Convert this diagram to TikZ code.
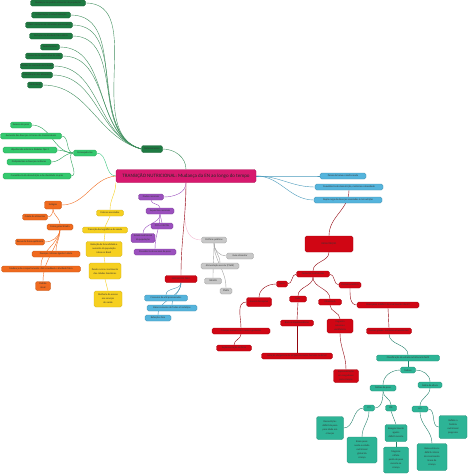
\documentclass[tikz,border=0pt]{standalone}
\usepackage{fontspec}
\setmainfont{Carlito}
\usetikzlibrary{positioning,backgrounds}

\definecolor{dgcol}{RGB}{30,122,66}
\definecolor{lgcol}{RGB}{52,201,110}
\definecolor{orcol}{RGB}{240,106,30}
\definecolor{yecol}{RGB}{246,208,32}
\definecolor{pucol}{RGB}{155,80,190}
\definecolor{grcol}{RGB}{200,200,200}
\definecolor{recol}{RGB}{208,6,20}
\definecolor{blcol}{RGB}{85,180,220}
\definecolor{tecol}{RGB}{45,180,150}
\definecolor{mgcol}{RGB}{215,25,110}

\begin{document}
\begin{tikzpicture}[%
  x=1pt,
  y=1pt,
  box/.style={
    rounded corners=1.6pt,
    inner sep=0.5pt,
    minimum height=6pt,
    align=center,
    line width=0.3pt,
    text=black!80,
    font=\fontsize{2.5}{4}\selectfont},
  wd/.style={minimum width=#1pt},
  ht/.style={minimum height=#1pt},
  dgn/.style={box, fill=dgcol, draw=dgcol!80!black},
  lgn/.style={box, fill=lgcol, draw=lgcol!80!black},
  orn/.style={box, fill=orcol, draw=orcol!80!black},
  yen/.style={box, fill=yecol, draw=yecol!85!black},
  pun/.style={box, fill=pucol, draw=pucol!80!black},
  grn/.style={box, fill=grcol, draw=grcol!80!black},
  ren/.style={box, fill=recol, draw=recol!80!black},
  bln/.style={box, fill=blcol, draw=blcol!80!black},
  ten/.style={box, fill=tecol, draw=tecol!80!black},
  lnk/.style={line width=0.55pt}
  ]
  \useasboundingbox (0,0) rectangle (474,-474);
  %% Central node
  \node[box, fill=mgcol, draw=mgcol!80!black, wd=140, ht=13,
    font=\fontsize{5}{6}\selectfont, text=black!85] (central) at (186,-176)
    {TRANSIÇÃO NUTRICIONAL: Mudança da EN ao longo do tempo};
  %% Dark green branch
  \node[dgn, wd=21, ht=7] (dgh) at (152,-149) {Determinantes};
  \node[dgn, wd=55] (dg1) at (58,-3) {Mudanças no padrão alimentar da população};
  \node[dgn, wd=39] (dg2) at (51,-15) {Urbanização e industrialização};
  \node[dgn, wd=47] (dg3) at (49,-25) {Maior consumo de alimentos processados};
  \node[dgn, wd=43] (dg4) at (51,-36) {Redução da atividade física diária};
  \node[dgn, wd=19] (dg5) at (50,-47) {Sedentarismo};
  \node[dgn, wd=37] (dg6) at (44,-56) {Aumento da expectativa de vida};
  \node[dgn, wd=32] (dg7) at (37,-66) {Mulher no mercado de trabalho};
  \node[dgn, wd=31] (dg8) at (37,-75) {Globalização dos alimentos};
  \node[dgn, wd=15] (dg9) at (35,-85) {Publicidade};
  %% Light green branch
  \node[lgn, wd=23] (lgh) at (85,-153) {Consequências};
  \node[lgn, wd=21] (lg1) at (21,-125) {Excesso de peso};
  \node[lgn, wd=61] (lg2) at (31,-136) {Aumento das doenças crônicas não transmissíveis};
  \node[lgn, wd=54] (lg3) at (30,-150) {Hipertensão arterial e diabetes tipo 2};
  \node[lgn, wd=44] (lg4) at (29,-162) {Dislipidemias e doenças cardíacas};
  \node[lgn, wd=68] (lg5) at (37,-176) {Coexistência da desnutrição e da obesidade no país};
  %% Orange branch
  \node[orn, wd=17, ht=8] (orh) at (53,-205) {Estágios};
  \node[orn, wd=25] (or1) at (35,-217) {Coleta de alimentos};
  \node[orn, wd=26] (or2) at (60,-227) {Fome generalizada};
  \node[orn, wd=29] (or3) at (30,-242) {Recuo da fome epidêmica};
  \node[orn, wd=48] (or4) at (56,-254) {Doenças crônicas ligadas à dieta};
  \node[orn, wd=79] (or5) at (41,-269) {Mudança de comportamento: dieta saudável e atividade física};
  \node[orn, wd=15, ht=9] (or6) at (43,-286) {Padrão\\atual};
  %% Yellow branch
  \node[yen, wd=27] (ye1) at (110,-213) {Fatores associados};
  \node[yen, wd=45] (ye2) at (105,-230) {Transição demográfica e de saúde};
  \node[yen, wd=36, ht=15] (ye3) at (104,-249) {Redução da fecundidade e\\aumento da população\\idosa no Brasil};
  \node[yen, wd=32, ht=16] (ye4) at (105,-271) {Êxodo rural e crescimento\\das cidades brasileiras};
  \node[yen, wd=28, ht=16] (ye5) at (108,-299) {Melhoria do acesso\\aos serviços\\de saúde};
  %% Purple branch
  \node[pun, wd=25] (pu1) at (151,-197) {Dados nacionais};
  \node[pun, wd=28] (pu2) at (160,-211) {Inquéritos nacionais};
  \node[pun, wd=22] (pu3) at (162,-226) {POF e VIGITEL};
  \node[pun, wd=24, ht=9] (pu4) at (143,-238) {Estado nutricional\\da população};
  \node[pun, wd=42] (pu5) at (155,-252) {Prevalência de excesso de peso};
  %% Grey branch
  \node[grn, wd=25] (gr1) at (214,-240) {Políticas públicas};
  \node[grn, wd=27] (gr2) at (240,-256) {Guia alimentar};
  \node[grn, wd=38] (gr3) at (220,-266) {Alimentação escolar (PNAE)};
  \node[grn, wd=17] (gr4) at (213,-281) {SISVAN};
  \node[grn, wd=12] (gr5) at (226,-291) {PNAN};
  %% Red and blue branch below
  \node[ren, wd=32, ht=7] (r0) at (181,-279) {EXCESSO DE PESO};
  \node[bln, wd=43] (bl1) at (166,-298) {Consumo de ultraprocessados};
  \node[bln, wd=50] (bl2) at (172,-308) {Baixo consumo de frutas e hortaliças};
  \node[bln, wd=26] (bl3) at (158,-318) {Refeições fora};
  %% Right blue branch
  \node[bln, wd=46] (rb1) at (343,-176) {Países de baixa e média renda};
  \node[bln, wd=68] (rb2) at (349,-187) {Coexistência de desnutrição, carências e obesidade};
  \node[bln, wd=68] (rb3) at (348,-200) {Dupla carga de doenças associadas à má nutrição};
  %% Red tree
  \node[ren, wd=48, ht=16] (re1) at (329,-244) {DESNUTRIÇÃO};
  \node[ren, wd=33] (re2) at (313,-274) {Carências nutricionais};
  \node[ren, wd=11] (re3) at (282,-284) {Ferro};
  \node[ren, wd=17] (re4) at (298,-299) {Iodo};
  \node[ren, wd=23] (re5) at (330,-302) {Vitamina A};
  \node[ren, wd=22] (re6) at (350,-285) {Proteico-calórica};
  \node[ren, wd=25, ht=9] (re7) at (259,-302) {Anemia ferropriva};
  \node[ren, wd=58] (re8) at (241,-331) {Crianças menores de 5 anos e gestantes};
  \node[ren, wd=35] (re9) at (234,-348) {Suplementação de ferro};
  \node[ren, wd=33] (re10) at (297,-323) {Bócio e hipotireoidismo};
  \node[ren, wd=71] (re11) at (297,-356) {Iodação obrigatória do sal para consumo humano no Brasil};
  \node[ren, wd=26, ht=14] (re12) at (340,-326) {Cegueira\\noturna e\\xeroftalmia};
  \node[ren, wd=25, ht=13] (re13) at (346,-376) {Suplementação\\em megadoses\\para crianças};
  \node[ren, wd=62] (re14) at (388,-305) {Baixo peso e déficit de crescimento infantil};
  \node[ren, wd=45] (re15) at (389,-331) {Formas graves: marasmo e kwashiorkor};
  %% Teal tree
  \node[ten, wd=63] (te1) at (408,-358) {Classificação do estado nutricional infantil};
  \node[ten, wd=15] (te2) at (408,-370) {Índices};
  \node[ten, wd=26] (te3) at (383,-388) {Índices de peso};
  \node[ten, wd=24] (te4) at (430,-385) {Índice de altura};
  \node[ten, wd=11] (te5) at (369,-408) {P/I};
  \node[ten, wd=11] (te6) at (391,-408) {P/E};
  \node[ten, wd=16] (te7) at (420,-409) {A/I};
  \node[ten, wd=27, ht=23] (te8) at (330,-428) {Desnutrição:\\déficit de peso\\para idade em\\crianças};
  \node[ten, wd=30, ht=26] (te9) at (362,-450) {Baixo peso:\\avalia o estado\\nutricional\\global da\\criança};
  \node[ten, wd=22, ht=17] (te10) at (396,-433) {Emagrecimento\\agudo:\\déficit recente};
  \node[ten, wd=25, ht=26] (te11) at (396,-460) {Magreza:\\reflete\\perda de peso\\recente na\\criança};
  \node[ten, wd=30, ht=27] (te12) at (432,-457) {Baixa estatura:\\déficit crônico\\de crescimento\\linear da\\criança};
  \node[ten, wd=28, ht=23] (te13) at (453,-427) {Reflete a\\história\\nutricional\\pregressa};
  %% Edges
  \begin{scope}[on background layer, lnk]
    \foreach \n in {dg1,dg2,dg3,dg4,dg5,dg6,dg7,dg8,dg9}
      \draw[dgcol!85] (\n.east) to [out=0,in=165] (dgh.west);
    \draw[dgcol!85] (dgh.east) to [out=0,in=90] (central.north);
    \foreach \n in {lg1,lg2,lg3,lg4,lg5}
      \draw[lgcol!80!black] (\n.east) to [out=0,in=180] (lgh.west);
    \draw[lgcol!70!tecol] (lgh.east) to [out=0,in=180] (central.west);
    \draw[orcol] (orh.east) to [out=0,in=185] (central.west);
    \draw[orcol] (orh.south) to [out=-90,in=0] (or1.east);
    \draw[orcol] (orh.south) to [out=-90,in=90] (or2.north);
    \draw[orcol] (or2.south) to [out=-100,in=0] (or3.east);
    \draw[orcol] (or2.south) to [out=-90,in=90] (or4.north);
    \draw[orcol] (or2.south) to [out=-100,in=90] (or5.north);
    \draw[orcol] (or2.south) to [out=-100,in=90] (or6.north);
    \draw[yecol] (central.south west) to [out=-90,in=90] (ye1.north);
    \draw[yecol] (ye1.south) -- (ye2.north);
    \draw[yecol] (ye2.south) -- (ye3.north);
    \draw[yecol] (ye3.south) -- (ye4.north);
    \draw[yecol] (ye4.south) -- (ye5.north);
    \draw[pucol] (central.south) to [out=-90,in=0] (pu1.east);
    \draw[pucol] (pu1.south) to [out=-90,in=90] (pu2.north);
    \draw[pucol] (pu2.south) to [out=-90,in=90] (pu3.north);
    \draw[pucol] (pu2.south) to [out=-90,in=90] (pu4.north);
    \draw[pucol] (pu2.south) to [out=-90,in=90] (pu5.north);
    \draw[mgcol!30] (central.south) to [out=-90,in=180] (gr1.west);
    \draw[grcol!80!black] (gr1.south) to [out=-90,in=180] (gr2.west);
    \draw[grcol!80!black] (gr1.south) to [out=-90,in=90] (gr3.north);
    \draw[grcol!80!black] (gr1.south) to [out=-90,in=90] (gr4.north);
    \draw[grcol!80!black] (gr1.south) to [out=-90,in=90] (gr5.north);
    \draw[recol!70!black] (central.south) to [out=-90,in=90] (r0.north);
    \draw[blcol!80!black] (r0.south) to [out=-90,in=90] (bl1.north);
    \draw[blcol!80!black] (r0.south) to [out=-90,in=90] (bl2.north);
    \draw[blcol!80!black] (r0.south) to [out=-90,in=90] (bl3.north);
    \foreach \n in {rb1,rb2,rb3}
      \draw[blcol!85!black] (central.east) to [out=0,in=180] (\n.west);
    \draw[recol!70!black] (rb2.south) to [out=-90,in=90] (re1.north);
    \draw[recol!70!black] (re1.south) to [out=-90,in=90] (re2.north);
    \draw[recol!70!black] (re2.west) to [out=180,in=0] (re3.east);
    \draw[recol!70!black] (re2.south) to [out=-90,in=90] (re4.north);
    \draw[recol!70!black] (re2.south) to [out=-90,in=90] (re5.north);
    \draw[recol!70!black] (re2.east) to [out=0,in=180] (re6.west);
    \draw[recol!70!black] (re3.west) to [out=180,in=90] (re7.north);
    \draw[recol!70!black] (re7.west) to [out=180,in=90] (re8.north);
    \draw[recol!70!black] (re8.south) to [out=-90,in=90] (re9.north);
    \draw[recol!70!black] (re4.south) -- (re10.north);
    \draw[recol!70!black] (re10.south) -- (re11.north);
    \draw[recol!70!black] (re5.south) to [out=-90,in=90] (re12.north);
    \draw[recol!70!black] (re12.south) to [out=-90,in=90] (re13.north);
    \draw[recol!70!black] (re6.south) to [out=-90,in=180] (re14.west);
    \draw[recol!70!black] (re14.south) -- (re15.north);
    \draw[tecol!70!black] (re15.south) to [out=-90,in=90] (te1.north);
    \draw[tecol!70!black] (te1.south) -- (te2.north);
    \draw[tecol!70!black] (te2.west) to [out=180,in=90] (te3.north);
    \draw[tecol!70!black] (te2.east) to [out=0,in=90] (te4.north);
    \draw[tecol!70!black] (te3.south) to [out=-90,in=0] (te5.east);
    \draw[tecol!70!black] (te3.south) to [out=-90,in=90] (te6.north);
    \draw[tecol!70!black] (te4.south) to [out=-90,in=90] (te7.north);
    \draw[tecol!70!black] (te5.west) to [out=180,in=0] (te8.east);
    \draw[tecol!70!black] (te5.south) to [out=-90,in=90] (te9.north);
    \draw[tecol!70!black] (te6.south) -- (te10.north);
    \draw[tecol!70!black] (te10.south) -- (te11.north);
    \draw[tecol!70!black] (te7.south) to [out=-90,in=90] (te12.north);
    \draw[tecol!70!black] (te7.east) to [out=0,in=180] (te13.west);
  \end{scope}
\end{tikzpicture}
\end{document}
